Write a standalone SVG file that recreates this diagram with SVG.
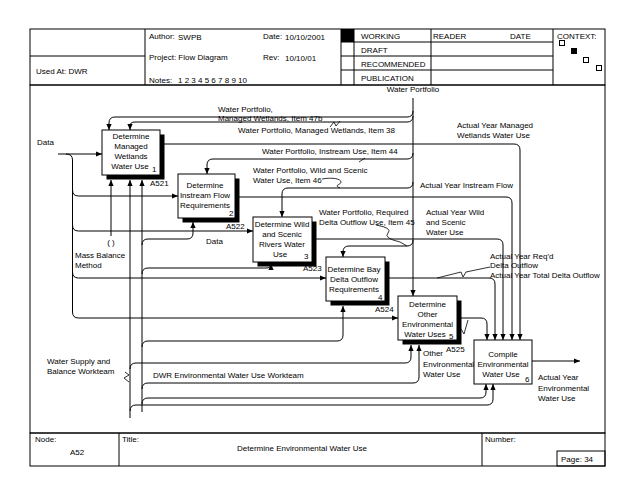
<svg xmlns="http://www.w3.org/2000/svg" width="638" height="493" viewBox="0 0 638 493">
<style>
text { font-family: "Liberation Sans", Arial, sans-serif; font-size: 8px; fill: #000; }
.c { text-anchor: middle; }
.fr { fill: none; stroke: #000; stroke-width: 1; }
.box { fill: #fff; stroke: #000; stroke-width: 1; }
.sh { fill: #000; }
#connectors path { fill: none; stroke: #000; stroke-width: 1; }
#connectors path.a { marker-end: url(#ah); }
#connectors path.sq { stroke-width: 0.8; }
</style>
<defs>
<marker id="ah" viewBox="0 0 6 6" refX="6" refY="3" markerWidth="6" markerHeight="6" markerUnits="userSpaceOnUse" orient="auto">
<path d="M0,0.4 L6,3 L0,5.6 Z" fill="#000"/>
</marker>
</defs>
<rect width="638" height="493" fill="#fff"/>

<g id="header">
<rect class="fr" x="30" y="29" width="575" height="56"/>
<line class="fr" x1="145" y1="29" x2="145" y2="85"/>
<line class="fr" x1="30" y1="56" x2="145" y2="56"/>
<line class="fr" x1="341" y1="29" x2="341" y2="85"/>
<line class="fr" x1="354" y1="29" x2="354" y2="85"/>
<line class="fr" x1="431" y1="29" x2="431" y2="85"/>
<line class="fr" x1="553" y1="29" x2="553" y2="85"/>
<line class="fr" x1="341" y1="42" x2="553" y2="42"/>
<line class="fr" x1="341" y1="56" x2="553" y2="56"/>
<line class="fr" x1="341" y1="70" x2="553" y2="70"/>
<rect x="341" y="29" width="13" height="13" fill="#000"/>
<rect class="fr" x="559.5" y="40.5" width="5" height="5"/>
<rect x="571" y="48" width="6" height="6" fill="#000"/>
<rect class="fr" x="583.5" y="57.5" width="5" height="5"/>
<rect class="fr" x="596.5" y="65.5" width="5" height="5"/>
<text x="36" y="74">Used At: DWR</text>
<text x="149" y="39">Author:</text><text x="178" y="40">SWPB</text>
<text x="263" y="39">Date:</text><text x="285" y="40">10/10/2001</text>
<text x="149" y="60">Project: Flow Diagram</text>
<text x="263" y="60">Rev:</text><text x="285" y="61">10/10/01</text>
<text x="149" y="83">Notes:</text><text x="178" y="83">1 2 3 4 5 6 7 8 9 10</text>
<text x="361" y="39">WORKING</text>
<text x="361" y="53">DRAFT</text>
<text x="361" y="67">RECOMMENDED</text>
<text x="361" y="81">PUBLICATION</text>
<text x="433" y="39">READER</text>
<text x="510" y="39">DATE</text>
<text x="557" y="39">CONTEXT:</text>
</g>

<g id="frame">
<rect class="fr" x="30" y="85" width="575" height="348"/>
</g>

<g id="footer">
<rect class="fr" x="30" y="433" width="575" height="33"/>
<line class="fr" x1="119" y1="433" x2="119" y2="466"/>
<line class="fr" x1="482" y1="433" x2="482" y2="466"/>
<rect class="fr" x="557" y="451" width="48" height="15"/>
<text x="35" y="442">Node:</text>
<text x="70" y="455">A52</text>
<text x="122" y="442">Title:</text>
<text class="c" x="302" y="451">Determine Environmental Water Use</text>
<text x="485" y="442">Number:</text>
<text x="561" y="462">Page:  34</text>
</g>

<g id="connectors">
<path class="a" d="M58,154 H102"/>
<path class="a" d="M66,154 Q72.5,154 72.5,160 V312 Q72.5,318 78.5,318 H398"/>
<path class="a" d="M72.5,190 Q72.5,196 78.5,196 H178"/>
<path class="a" d="M72.5,225 Q72.5,231 78.5,231 H253"/>
<path class="a" d="M72.5,272 Q72.5,278 78.5,278 H326"/>
<path class="a" d="M413,98 V296"/>
<path class="a" d="M413,111 Q413,117 407,117 H115 Q109,117 109,123 V130"/>
<path class="a" d="M413,116 Q413,122 407,122 H135 Q130,122 130,126 V130"/>
<path class="a" d="M413,153 Q413,159 407,159 H213 Q207,159 207,165 V174"/>
<path class="a" d="M413,182 Q413,188 407,188 H288 Q282,188 282,194 V217"/>
<path class="a" d="M413,240 Q413,246 407,246 H349 Q343,246 343,252 V257"/>
<path class="a" d="M160,144 H514 Q520,144 520,150 V340"/>
<path class="a" d="M235,197 H506 Q512,197 512,203 V340"/>
<path class="a" d="M312,239 H497 Q503,239 503,245 V340"/>
<path class="a" d="M385,278 H489 Q495,278 495,284 V340"/>
<path class="a" d="M457,318 H481 Q487,318 487,324 V340"/>
<path class="a" d="M532,361 H580"/>
<path class="a" d="M130,418 V180"/>
<path class="a" d="M142,412 V180"/>
<path class="a" d="M111,236 V180"/>
<path class="a" d="M142,245 Q142,239 148,239 H187 Q193,239 193,233 V222"/>
<path class="a" d="M142,274 Q142,268 148,268 H266 Q271,268 271,264"/>
<path class="a" d="M142,347 Q142,341 148,341 H337 Q343,341 343,335 V306"/>
<path class="a" d="M130,369 Q130,363 136,363 H405 Q411,363 411,357 V345"/>
<path class="a" d="M142,389 Q142,383 148,383 H413 Q419,383 419,377 V345"/>
<path class="a" d="M142,404 Q142,398 148,398 H480 Q486,398 486,392 V384"/>
<path class="a" d="M130,411 Q130,405 136,405 H487 Q493,405 493,399 V384"/>
<path class="sq" d="M330,127 L334,122 L336,126 L340,121"/>
<path class="sq" d="M359,162 L365,158"/>
<path class="sq" d="M322,179 C333,177 341,179 341,182 C341,185 333,185 340,188"/>
<path class="sq" d="M376,225 Q393,228 388,233 Q383,238 400,242 L407,246"/>
<path class="sq" d="M437,278 L461,272 L463,277 L466,272 L490,267"/>
<path class="sq" d="M461,329 L464,334 L468,320"/>
<path class="sq" d="M125,372 L129,375 L124,378 L129,382"/>
</g>

<g id="labels">
<text class="c" x="413" y="92">Water Portfolio</text>
<text x="218" y="112">Water Portfolio,</text>
<text x="218" y="121">Managed Wetlands, Item 47b</text>
<text x="238" y="133">Water Portfolio, Managed Wetlands, Item 38</text>
<text x="262" y="154">Water Portfolio, Instream Use, Item 44</text>
<text x="253" y="173">Water Portfolio, Wild and Scenic</text>
<text x="253" y="183">Water Use, Item 46</text>
<text x="319" y="215">Water Portfolio, Required</text>
<text x="319" y="225">Delta Outflow Use, Item 45</text>
<text x="457" y="128">Actual Year Managed</text>
<text x="457" y="138">Wetlands Water Use</text>
<text x="420" y="188">Actual Year Instream Flow</text>
<text x="426" y="215">Actual Year Wild</text>
<text x="426" y="225">and Scenic</text>
<text x="426" y="235">Water Use</text>
<text x="490" y="259">Actual Year Req'd</text>
<text x="490" y="268">Delta Outflow</text>
<text x="490" y="278">Actual Year Total Delta Outflow</text>
<text x="37" y="145">Data</text>
<text x="206" y="244">Data</text>
<text class="c" x="111" y="245">( )</text>
<text x="75" y="258">Mass Balance</text>
<text x="75" y="268">Method</text>
<text x="150" y="186">A521</text>
<text x="226" y="229">A522</text>
<text x="303" y="271">A523</text>
<text x="375" y="312">A524</text>
<text x="446" y="352">A525</text>
<text x="423" y="356">Other</text>
<text x="423" y="367">Environmental</text>
<text x="423" y="377">Water Use</text>
<text x="47" y="364">Water Supply and</text>
<text x="47" y="374">Balance Workteam</text>
<text x="153" y="378">DWR Environmental Water Use Workteam</text>
<text x="538" y="380">Actual Year</text>
<text x="538" y="391">Environmental</text>
<text x="538" y="401">Water Use</text>
</g>

<g id="n1">
<rect class="sh" x="106.5" y="134.5" width="58" height="45"/>
<rect class="box" x="102" y="130" width="58" height="45"/>
<text class="c" x="131" y="139">Determine</text>
<text class="c" x="131" y="149">Managed</text>
<text class="c" x="131" y="159">Wetlands</text>
<text class="c" x="130" y="169">Water Use</text>
<text x="152" y="172">1</text>
</g>
<g id="n2">
<rect class="sh" x="182.5" y="178.5" width="57" height="44"/>
<rect class="box" x="178" y="174" width="57" height="44"/>
<text class="c" x="205" y="188">Determine</text>
<text class="c" x="205" y="198">Instream Flow</text>
<text class="c" x="205" y="208">Requirements</text>
<text x="229" y="215.5">2</text>
</g>
<g id="n3">
<rect class="sh" x="257.5" y="221.5" width="59" height="45"/>
<rect class="box" x="253" y="217" width="59" height="45"/>
<text class="c" x="282" y="226.5">Determine Wild</text>
<text class="c" x="282" y="236.5">and Scenic</text>
<text class="c" x="282" y="246.5">Rivers Water</text>
<text class="c" x="280" y="256.5">Use</text>
<text x="304" y="259">3</text>
</g>
<g id="n4">
<rect class="sh" x="330.5" y="261.5" width="59" height="44"/>
<rect class="box" x="326" y="257" width="59" height="44"/>
<text class="c" x="354" y="272">Determine Bay</text>
<text class="c" x="354" y="282">Delta Outflow</text>
<text class="c" x="354" y="292">Requirements</text>
<text x="378" y="299.5">4</text>
</g>
<g id="n5">
<rect class="sh" x="402.5" y="300.5" width="59" height="44"/>
<rect class="box" x="398" y="296" width="59" height="44"/>
<text class="c" x="427.5" y="306.5">Determine</text>
<text class="c" x="427.5" y="316.5">Other</text>
<text class="c" x="427.5" y="326.5">Environmental</text>
<text class="c" x="425" y="337">Water Uses</text>
<text x="449" y="339">5</text>
</g>
<g id="n6">
<rect class="box" x="474" y="340" width="58" height="44"/>
<text class="c" x="503" y="356.5">Compile</text>
<text class="c" x="503" y="366.5">Environmental</text>
<text class="c" x="501" y="376.5">Water Use</text>
<text x="525" y="382">6</text>
</g>
</svg>
